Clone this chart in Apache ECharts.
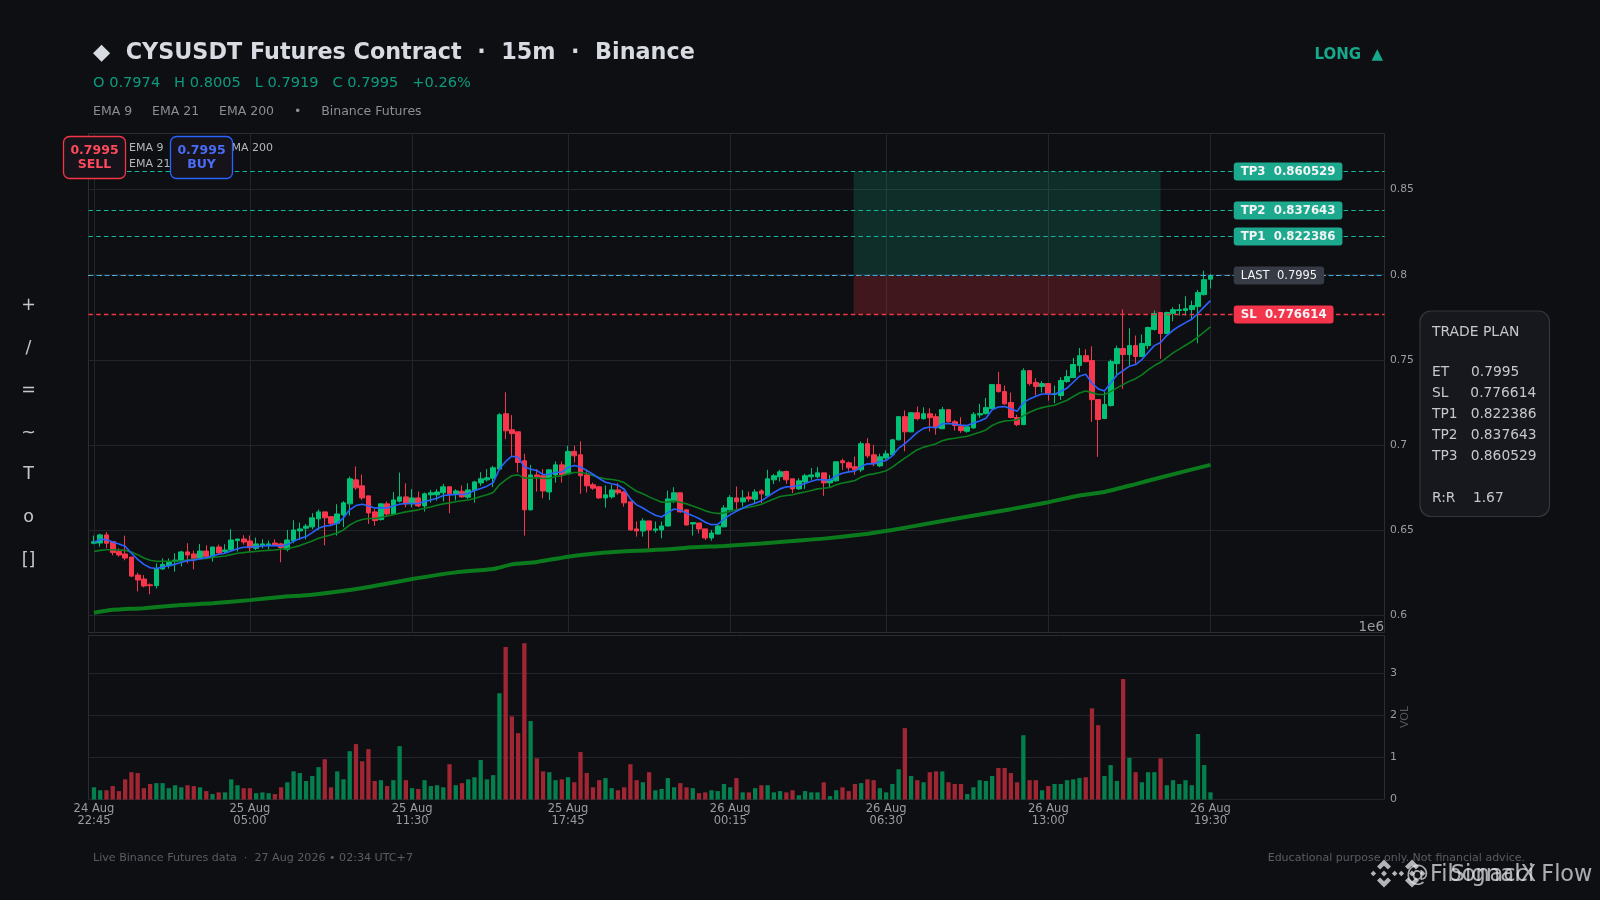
<!DOCTYPE html>
<html><head><meta charset="utf-8">
<style>html,body{margin:0;padding:0;background:#0d0f12}#c{width:1600px;height:900px}</style>
<script src="https://cdn.jsdelivr.net/npm/echarts@6/dist/echarts.min.js"></script>
</head><body><div id="c"></div>
<script>
const opens=[.6424,.6425,.6473,.6433,.6375,.6361,.6343,.6237,.6214,.6180,
.6175,.6273,.6292,.6316,.6324,.6373,.6361,.6337,.6378,.6345,
.6402,.6375,.6384,.6439,.6449,.6437,.6394,.6412,.6412,.6425,
.6420,.6388,.6439,.6496,.6512,.6520,.6567,.6608,.6580,.6541,
.6590,.6655,.6796,.6761,.6702,.6608,.6563,.6655,.6596,.6671,
.6696,.6655,.6690,.6643,.6708,.6708,.6720,.6755,.6712,.6729,
.6694,.6733,.6778,.6796,.6806,.6859,.7184,.7090,.7078,.6908,
.6620,.6825,.6820,.6725,.6825,.6884,.6831,.6963,.6943,.6825,
.6767,.6755,.6690,.6696,.6737,.6725,.6667,.6508,.6496,.6555,
.6500,.6502,.6525,.6675,.6720,.6620,.6537,.6543,.6508,.6455,
.6478,.6520,.6620,.6690,.6667,.6696,.6682,.6731,.6702,.6796,
.6814,.6845,.6802,.6743,.6784,.6814,.6814,.6837,.6778,.6790,
.6908,.6896,.6873,.6855,.7008,.6943,.6878,.6925,.6943,.7031,
.7167,.7078,.7190,.7155,.7184,.7167,.7096,.7208,.7137,.7111,
.7081,.7101,.7177,.7185,.7214,.7355,.7314,.7250,.7162,.7120,
.7437,.7367,.7344,.7361,.7297,.7291,.7373,.7396,.7467,.7525,
.7496,.7267,.7156,.7232,.7478,.7567,.7531,.7584,.7520,.7584,
.7678,.7778,.7655,.7772,.7790,.7790,.7795,.7813,.7883,.7974];
const closes=[.6433,.6473,.6424,.6369,.6355,.6337,.6231,.6208,.6173,.6175,
.6276,.6300,.6312,.6325,.6373,.6355,.6335,.6378,.6345,.6402,
.6367,.6384,.6443,.6449,.6431,.6398,.6420,.6420,.6420,.6412,
.6398,.6443,.6502,.6508,.6524,.6573,.6608,.6573,.6541,.6596,
.6661,.6802,.6749,.6690,.6602,.6557,.6655,.6596,.6678,.6696,
.6655,.6690,.6643,.6714,.6720,.6725,.6755,.6714,.6731,.6696,
.6737,.6784,.6802,.6808,.6867,.7178,.7084,.7067,.6898,.6620,
.6825,.6814,.6731,.6855,.6884,.6825,.6963,.6937,.6820,.6761,
.6747,.6690,.6708,.6737,.6720,.6661,.6502,.6496,.6555,.6502,
.6508,.6525,.6684,.6720,.6608,.6531,.6545,.6508,.6455,.6484,
.6525,.6631,.6692,.6667,.6690,.6684,.6725,.6714,.6802,.6820,
.6843,.6796,.6743,.6790,.6820,.6825,.6837,.6778,.6796,.6902,
.6896,.6867,.6855,.7008,.6937,.6890,.6931,.6949,.7031,.7167,
.7078,.7190,.7155,.7184,.7161,.7102,.7208,.7137,.7115,.7085,
.7107,.7181,.7185,.7220,.7355,.7314,.7242,.7162,.7120,.7437,
.7361,.7344,.7361,.7302,.7302,.7379,.7402,.7473,.7525,.7490,
.7267,.7150,.7238,.7490,.7567,.7531,.7584,.7520,.7596,.7690,
.7772,.7655,.7778,.7795,.7795,.7801,.7819,.7895,.7971,.7995];
const lows=[.6418,.6404,.6394,.6353,.6345,.6324,.6225,.6141,.6165,.6124,
.6159,.6269,.6275,.6257,.6288,.6306,.6271,.6331,.6335,.6316,
.6355,.6365,.6380,.6375,.6416,.6378,.6384,.6394,.6388,.6408,
.6312,.6376,.6424,.6443,.6447,.6506,.6502,.6412,.6531,.6469,
.6518,.6586,.6737,.6678,.6537,.6527,.6557,.6580,.6590,.6663,
.6635,.6635,.6635,.6610,.6663,.6675,.6669,.6600,.6675,.6690,
.6684,.6663,.6761,.6786,.6753,.6855,.7035,.6937,.6839,.6469,
.6616,.6727,.6688,.6678,.6780,.6780,.6825,.6898,.6714,.6722,
.6737,.6684,.6633,.6686,.6708,.6639,.6498,.6463,.6463,.6394,
.6486,.6453,.6522,.6659,.6604,.6527,.6469,.6482,.6443,.6439,
.6476,.6518,.6616,.6625,.6639,.6669,.6659,.6659,.6698,.6771,
.6786,.6773,.6718,.6737,.6743,.6796,.6806,.6702,.6753,.6786,
.6855,.6849,.6825,.6841,.6924,.6875,.6871,.6914,.6937,.7027,
.6963,.7075,.7145,.7149,.7080,.7061,.7094,.7133,.7085,.7072,
.7072,.7095,.7160,.7179,.7210,.7308,.7238,.7156,.7111,.7119,
.7349,.7291,.7308,.7261,.7246,.7265,.7365,.7394,.7428,.7486,
.7136,.6931,.7152,.7226,.7402,.7330,.7467,.7477,.7516,.7565,
.7672,.7506,.7651,.7727,.7760,.7760,.7741,.7598,.7878,.7919];
const highs=[.6469,.6480,.6490,.6437,.6394,.6469,.6343,.6251,.6237,.6188,
.6306,.6335,.6335,.6365,.6380,.6424,.6380,.6420,.6412,.6402,
.6416,.6418,.6506,.6449,.6471,.6469,.6457,.6447,.6439,.6447,
.6427,.6502,.6559,.6545,.6537,.6600,.6622,.6608,.6580,.6653,
.6671,.6816,.6875,.6827,.6702,.6624,.6659,.6669,.6724,.6839,
.6776,.6741,.6727,.6722,.6737,.6741,.6773,.6759,.6741,.6763,
.6776,.6790,.6841,.6859,.6878,.7188,.7310,.7176,.7078,.6949,
.6884,.6859,.6859,.6855,.6904,.6904,.6996,.6996,.7022,.6855,
.6780,.6761,.6763,.6767,.6776,.6731,.6667,.6551,.6571,.6555,
.6551,.6551,.6733,.6753,.6720,.6620,.6545,.6543,.6508,.6502,
.6531,.6647,.6706,.6757,.6737,.6727,.6741,.6741,.6855,.6831,
.6855,.6851,.6802,.6806,.6831,.6865,.6871,.6837,.6825,.6904,
.6920,.6904,.6933,.7020,.7041,.7002,.6949,.6969,.7037,.7169,
.7204,.7192,.7227,.7222,.7216,.7184,.7224,.7208,.7148,.7164,
.7111,.7193,.7242,.7277,.7355,.7430,.7349,.7308,.7179,.7451,
.7437,.7392,.7375,.7361,.7349,.7398,.7441,.7512,.7570,.7563,
.7580,.7267,.7314,.7502,.7584,.7797,.7686,.7643,.7649,.7696,
.7790,.7778,.7784,.7809,.7829,.7874,.7848,.7911,.8024,.8005];
const volumes=[.29,.22,.22,.32,.20,.48,.65,.63,.27,.37,
.39,.39,.27,.34,.29,.34,.32,.29,.20,.13,
.17,.17,.48,.34,.27,.27,.15,.17,.15,.13,
.29,.41,.67,.63,.44,.56,.77,.96,.29,.67,
.48,1.15,1.32,.91,1.20,.44,.46,.32,.46,1.27,
.46,.27,.25,.46,.32,.34,.29,.84,.34,.39,
.48,.53,.94,.48,.58,2.53,3.63,1.98,1.58,3.72,
1.87,.98,.67,.65,.46,.48,.53,.41,1.13,.63,
.29,.46,.51,.27,.22,.29,.84,.46,.41,.65,
.22,.25,.51,.29,.39,.29,.27,.15,.17,.22,
.20,.37,.29,.51,.17,.17,.27,.34,.34,.17,
.20,.17,.22,.10,.20,.17,.17,.41,.08,.22,
.29,.20,.37,.39,.48,.46,.27,.17,.37,.72,
1.70,.56,.46,.41,.65,.67,.67,.41,.37,.37,
.13,.29,.46,.44,.56,.75,.75,.63,.41,1.53,
.46,.46,.22,.32,.37,.37,.46,.48,.51,.53,
2.17,1.77,.56,.82,.44,2.87,.99,.65,.41,.65,
.65,.98,.34,.46,.37,.46,.34,1.56,.82,.17];
const ema9=[.6429,.6447,.6445,.6431,.6420,.6406,.6365,.6329,.6300,.6280,
.6276,.6284,.6292,.6300,.6312,.6322,.6325,.6333,.6339,.6351,
.6359,.6365,.6378,.6392,.6400,.6402,.6404,.6408,.6410,.6410,
.6408,.6416,.6435,.6451,.6463,.6486,.6512,.6525,.6529,.6541,
.6573,.6620,.6645,.6653,.6643,.6631,.6633,.6631,.6643,.6653,
.6657,.6657,.6657,.6669,.6678,.6688,.6704,.6708,.6710,.6710,
.6716,.6733,.6745,.6759,.6780,.6859,.6904,.6935,.6929,.6871,
.6859,.6851,.6827,.6829,.6841,.6841,.6869,.6880,.6871,.6851,
.6829,.6804,.6782,.6773,.6765,.6741,.6684,.6649,.6631,.6608,
.6588,.6578,.6604,.6625,.6618,.6600,.6586,.6569,.6547,.6533,
.6535,.6565,.6592,.6612,.6629,.6647,.6659,.6673,.6698,.6722,
.6743,.6755,.6757,.6763,.6775,.6788,.6798,.6796,.6794,.6820,
.6835,.6843,.6847,.6875,.6890,.6890,.6902,.6910,.6937,.6982,
.7008,.7041,.7075,.7098,.7106,.7102,.7125,.7127,.7122,.7117,
.7115,.7130,.7142,.7158,.7207,.7224,.7226,.7214,.7199,.7248,
.7271,.7287,.7300,.7300,.7297,.7316,.7334,.7369,.7404,.7416,
.7363,.7330,.7318,.7365,.7412,.7437,.7463,.7473,.7502,.7543,
.7584,.7602,.7643,.7674,.7698,.7719,.7739,.7774,.7811,.7848];
const ema21=[.6375,.6382,.6386,.6386,.6384,.6382,.6373,.6357,.6337,.6324,
.6318,.6318,.6318,.6318,.6320,.6325,.6329,.6331,.6335,.6341,
.6345,.6349,.6357,.6365,.6369,.6373,.6376,.6380,.6382,.6384,
.6390,.6392,.6400,.6410,.6424,.6437,.6453,.6463,.6473,.6484,
.6502,.6531,.6551,.6563,.6569,.6569,.6575,.6584,.6592,.6600,
.6608,.6614,.6620,.6629,.6637,.6647,.6655,.6661,.6667,.6673,
.6678,.6686,.6698,.6708,.6722,.6767,.6796,.6820,.6825,.6806,
.6806,.6808,.6804,.6804,.6816,.6820,.6831,.6839,.6839,.6833,
.6822,.6810,.6802,.6798,.6792,.6780,.6753,.6729,.6714,.6696,
.6680,.6665,.6667,.6671,.6665,.6655,.6643,.6629,.6614,.6604,
.6598,.6602,.6610,.6620,.6629,.6635,.6643,.6653,.6669,.6684,
.6698,.6704,.6708,.6718,.6725,.6733,.6743,.6747,.6751,.6767,
.6778,.6784,.6792,.6812,.6825,.6831,.6839,.6849,.6871,.6898,
.6924,.6949,.6973,.6988,.6998,.7008,.7025,.7035,.7040,.7046,
.7052,.7064,.7075,.7089,.7115,.7132,.7142,.7144,.7148,.7173,
.7193,.7209,.7220,.7228,.7234,.7248,.7263,.7285,.7306,.7318,
.7308,.7297,.7297,.7314,.7336,.7355,.7375,.7390,.7412,.7441,
.7467,.7486,.7514,.7541,.7563,.7586,.7608,.7635,.7664,.7694];
const ema200Index=[0,3,8,14,19,25,30,35,41,46,51,58,64,67,71,76,82,87,92,96,101,107,112,117,123,128,134,139,147,153,158,162,167,171,179];
const ema200=[.6016,.6033,.6043,.6061,.6071,.6090,.6108,.6122,.6149,.6180,.6214,.6253,.6273,.6300,.6314,.6345,.6369,.6380,.6388,.6400,.6408,.6422,.6437,.6451,.6475,.6502,.6541,.6573,.6624,.6665,.6704,.6725,.6771,.6810,.6884];
const xTickIndex=[0,25,51,76,102,127,153,179];
const xTickLabels=['24 Aug\n22:45','25 Aug\n05:00','25 Aug\n11:30','25 Aug\n17:45','26 Aug\n00:15','26 Aug\n06:30','26 Aug\n13:00','26 Aug\n19:30'];
const priceTicks=[.6,.65,.7,.75,.8,.85];
const volumeTicks=[0,1,2,3];
const levelNames=['TP3','TP2','TP1','LAST','SL'];
const levelValues=[.860529,.837643,.822386,.7995,.776614];
const levelText=['0.860529','0.837643','0.822386','0.7995','0.776614'];
const zoneStartIndex=121.8, zoneEndIndex=171;

const TEAL='#14b89a', RED='#f23645', UP='#00c176', DOWN='#f8364c', GRID='#23252a', FRAME='#2b2d32', AXTXT='#9a9da3';
const FONT='"DejaVu Sans"';
const X_MIN=-0.88, X_MAX=206.9;
const candleData=opens.map((o,i)=>[i,o,closes[i],lows[i],highs[i]]);
const volumeData=volumes.map((v,i)=>[i,v]);

function txt(x,y,text,font,fill,align,z){return {type:'text',z:z||50,style:{x,y,text,font,fill,textAlign:align||'left',textVerticalAlign:'middle'}};}
function box(x,y,w,h,r,fill,stroke,lw,z){return {type:'rect',z:z||40,shape:{x,y,width:w,height:h,r},style:{fill,stroke,lineWidth:lw}};}
function logo(cx,cy,s,fill){
  const P=pts=>({type:'polygon',z:55,shape:{points:pts.map(p=>[cx+p[0]*s,cy+p[1]*s])},style:{fill}});
  const dia=(a,b,h)=>[[a,b-h],[a+h,b],[a,b+h],[a-h,b]];
  return [P(dia(0,0,.21)),P(dia(-.76,0,.2)),P(dia(.76,0,.2)),
    P([[0,-1],[.5,-.5],[.28,-.28],[0,-.56],[-.28,-.28],[-.5,-.5]]),
    P([[0,1],[.5,.5],[.28,.28],[0,.56],[-.28,.28],[-.5,.5]])];
}
const tools=[['+',305],['/',348],['=',390],['~',433],['T',474],['o',517],['[]',560]];
const graphics=[
 txt(93,53,'◆  CYSUSDT Futures Contract  ·  15m  ·  Binance','bold 22.3px '+FONT,'#d8dbe1'),
 txt(93,83,'O 0.7974   H 0.8005   L 0.7919   C 0.7995   +0.26%','14.6px '+FONT,'#0d9b80'),
 txt(93,111.7,'EMA 9     EMA 21     EMA 200     •     Binance Futures','12.5px '+FONT,'#8b8e95'),
 txt(1383,55,'LONG  ▲','bold 15px '+FONT,'#18a88c','right'),
 txt(129,148,'EMA 9','11px '+FONT,'#b5b7bb','left',30),
 txt(129,164.5,'EMA 21','11px '+FONT,'#b5b7bb','left',30),
 txt(273,148,'EMA 200','11px '+FONT,'#b5b7bb','right',30),
 box(63.5,136.5,62,42,6,'#16141a','#f23645',1.3,45),
 txt(94.5,150.8,'0.7995','bold 12.5px '+FONT,'#ff4a5c','center',46),
 txt(94.5,164.8,'SELL','bold 12.5px '+FONT,'#ff4a5c','center',46),
 box(170.5,136.5,62,42,6,'#16141a','#2962ff',1.3,45),
 txt(201.5,150.8,'0.7995','bold 12.5px '+FONT,'#4a6cf7','center',46),
 txt(201.5,164.8,'BUY','bold 12.5px '+FONT,'#4a6cf7','center',46),
 txt(1384,627,'1e6','13.5px '+FONT,AXTXT,'right'),
 {type:'text',z:50,x:1405.5,y:717,rotation:Math.PI/2,style:{x:0,y:0,text:'VOL',font:'11px '+FONT,fill:'#54575d',textAlign:'center',textVerticalAlign:'middle'}},
 box(1420,311,129.5,205.5,11,'#16181d','#33363c',1.2,45),
 txt(1432,332,'TRADE PLAN','13.9px '+FONT,'#c6c8cb','left',46),
 {type:'text',z:46,style:{x:1432,y:362,text:'ET     0.7995\nSL     0.776614\nTP1   0.822386\nTP2   0.837643\nTP3   0.860529\n\nR:R    1.67',font:'13.8px '+FONT,fill:'#c6c8cb',lineHeight:21,textAlign:'left',textVerticalAlign:'top'}},
 txt(93,858,'Live Binance Futures data  ·  27 Aug 2026 • 02:34 UTC+7','11.1px '+FONT,'#5a5d64'),
 txt(1525,858.5,'Educational purpose only. Not financial advice.','11px '+FONT,'#5a5d64','right'),
 ...logo(1384,873.5,14,'rgba(220,222,225,.8)'),
 ...logo(1412,873.5,14,'rgba(220,222,225,.8)'),
 txt(1406,875,'@   SignalX','22.8px '+FONT,'rgba(225,227,230,.75)','left',56),
 txt(1430,875,'Fibonacci Flow','22.4px '+FONT,'rgba(225,227,230,.75)','left',56),
 ...tools.map(t=>txt(28.5,t[1],t[0],'17.5px '+FONT,'#c4c6ca','center'))
];

const dashLine=(value,color,type,width)=>({yAxis:value,lineStyle:{color,type,width},symbol:'none',label:{show:false}});
const pillSeries=levelNames.map((name,i)=>({
  type:'scatter',xAxisIndex:0,yAxisIndex:0,z:20,symbolSize:1,itemStyle:{color:'rgba(0,0,0,0)',opacity:1},silent:true,
  data:[[182.65,levelValues[i]]],
  label:{show:true,position:'right',distance:0,formatter:name+'  '+levelText[i],opacity:1,
    fontFamily:'DejaVu Sans',fontSize:name==='LAST'?11.5:11.75,fontWeight:name==='LAST'?'normal':'bold',color:'#f2f4f5',
    backgroundColor:name==='LAST'?'#363b45':name==='SL'?'#f4344a':'#1da98e',
    padding:[3,7,3,7],borderRadius:3}
}));

const option={
 animation:false,backgroundColor:'#0d0f12',
 grid:[
  {left:88.5,top:133.5,width:1296,height:499,show:true,borderColor:FRAME,borderWidth:1,backgroundColor:'transparent'},
  {left:88.5,top:635.5,width:1296,height:164,show:true,borderColor:FRAME,borderWidth:1,backgroundColor:'transparent'}
 ],
 xAxis:[
  {type:'value',gridIndex:0,min:X_MIN,max:X_MAX,axisLine:{show:false},axisTick:{show:false,customValues:xTickIndex},
   axisLabel:{show:false,customValues:xTickIndex},splitLine:{show:true,lineStyle:{color:GRID,width:1}}},
  {type:'value',gridIndex:1,min:X_MIN,max:X_MAX,axisLine:{show:false},axisTick:{show:false,customValues:xTickIndex},splitLine:{show:false},
   axisLabel:{show:true,customValues:xTickIndex,color:AXTXT,fontFamily:'DejaVu Sans',fontSize:11.5,lineHeight:12,margin:4,
    formatter:v=>xTickLabels[xTickIndex.indexOf(Math.round(v))]}}
 ],
 yAxis:[
  {type:'value',gridIndex:0,position:'right',min:.59,max:.8829,axisLine:{show:false},axisTick:{show:false,customValues:priceTicks},
   axisLabel:{customValues:priceTicks,color:AXTXT,fontFamily:'DejaVu Sans',fontSize:10.7,margin:5.5,padding:[3,0,0,0]},splitLine:{show:true,lineStyle:{color:GRID,width:1}}},
  {type:'value',gridIndex:1,position:'right',min:0,max:3.905,axisLine:{show:false},axisTick:{show:false,customValues:volumeTicks},
   axisLabel:{customValues:volumeTicks,color:AXTXT,fontFamily:'DejaVu Sans',fontSize:11,margin:5.5,padding:[3,0,0,0]},splitLine:{show:true,lineStyle:{color:GRID,width:1}}}
 ],
 series:[
  {type:'line',xAxisIndex:0,yAxisIndex:0,data:[],z:1,silent:true,
   markArea:{silent:true,data:[
    [{coord:[zoneStartIndex,levelValues[0]],itemStyle:{color:'rgba(26,168,142,.2)'}},{coord:[zoneEndIndex,levelValues[3]]}],
    [{coord:[zoneStartIndex,levelValues[3]],itemStyle:{color:'rgba(242,54,69,.22)'}},{coord:[zoneEndIndex,levelValues[4]]}]
   ]},
   markLine:{silent:true,symbol:'none',animation:false,precision:6,data:[
    dashLine(levelValues[0],TEAL,[4.5,3.2],1.2),dashLine(levelValues[1],TEAL,[4.5,3.2],1.2),dashLine(levelValues[2],TEAL,[4.5,3.2],1.2),
    dashLine(levelValues[3],'#2ea9dc',[5,3],1.2),dashLine(levelValues[3],'#cfd2d6',[1,11],1),
    dashLine(levelValues[4],RED,[4.5,3.2],1.3)]}},
  {type:'line',name:'EMA 200',xAxisIndex:0,yAxisIndex:0,z:2,data:ema200.map((v,i)=>[ema200Index[i],v]),showSymbol:false,smooth:0.2,lineStyle:{color:'#0b7a1c',width:4},silent:true},
  {type:'candlestick',name:'Candles',xAxisIndex:0,yAxisIndex:0,z:3,data:candleData,encode:{x:0,y:[1,2,3,4]},barWidth:5.2,
   itemStyle:{color:UP,color0:DOWN,borderColor:UP,borderColor0:DOWN,borderWidth:1},silent:true},
  {type:'line',name:'EMA 21',xAxisIndex:0,yAxisIndex:0,z:4,data:ema21.map((v,i)=>[i,v]),showSymbol:false,lineStyle:{color:'#0b7d1f',width:1.6},silent:true},
  {type:'line',name:'EMA 9',xAxisIndex:0,yAxisIndex:0,z:5,data:ema9.map((v,i)=>[i,v]),showSymbol:false,lineStyle:{color:'#2962ff',width:1.6},silent:true},
  {type:'bar',name:'VOL',xAxisIndex:1,yAxisIndex:1,data:volumeData,barWidth:4.3,silent:true,
   itemStyle:{color:p=>closes[p.dataIndex]>=opens[p.dataIndex]?'#057f4e':'#a02634'}},
  ...pillSeries
 ],
 graphic:graphics
};
const chart=echarts.init(document.getElementById('c'),null,{renderer:'canvas',width:1600,height:900});
chart.setOption(option);
</script></body></html>
